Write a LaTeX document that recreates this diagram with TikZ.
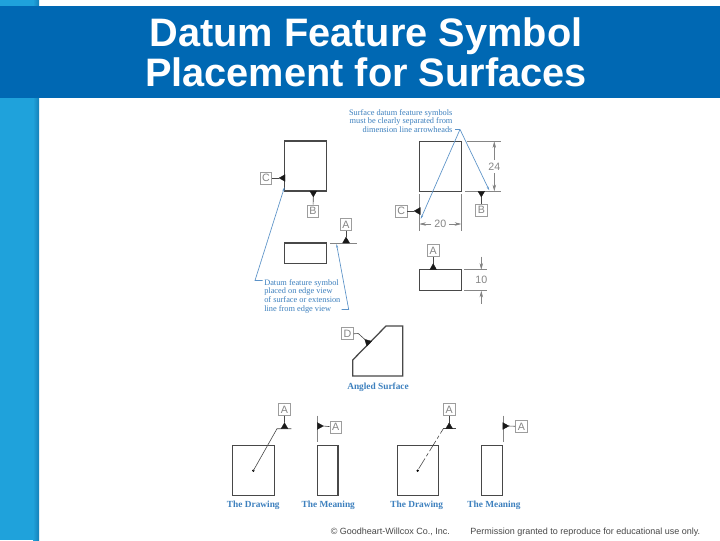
\documentclass[tikz,border=0pt]{standalone}
\usepackage{fontspec}
\setmainfont{Liberation Serif}
\newfontfamily\arialf{Liberation Sans}
\usetikzlibrary{arrows.meta}
\definecolor{hdr}{HTML}{0068B3}
\definecolor{bluetext}{HTML}{3D80BE}
\definecolor{leader}{HTML}{5C93C8}
\definecolor{ink}{HTML}{484848}
\definecolor{grayink}{HTML}{858585}
\definecolor{stripA}{HTML}{1FA2DB}
\definecolor{stripB}{HTML}{1580B8}
\tikzset{
  x=0.75pt,y=-0.75pt,
  part/.style={draw=ink,line width=0.95pt,fill=white},
  thinl/.style={draw=grayink,line width=0.45pt},
  stem/.style={draw=ink,line width=0.45pt},
  tri/.style={fill=black!90,draw=black!90,line width=0.2pt,line join=round},
  dbox/.style={draw=grayink!80,line width=0.6pt,minimum width=8.6pt,minimum height=9pt,inner sep=0pt,font=\arialf\fontsize{8}{8}\selectfont,text=grayink},
  dimtext/.style={inner sep=2pt,font=\arialf\fontsize{8}{8}\selectfont,text=grayink},
  dimarrow/.style={thinl,-{Stealth[length=5pt,width=2.6pt,fill=ink]}},
  lead/.style={draw=leader,line width=0.5pt},
  leadtip/.style={lead,-{Stealth[length=3pt,width=1.4pt,fill=hdr]}},
  note/.style={inner sep=0pt,text=bluetext,font=\fontsize{6.25}{6.6}\selectfont},
  caption/.style={inner sep=0pt,text=bluetext,font=\bfseries\fontsize{7}{7}\selectfont},
  titlet/.style={inner sep=0pt,text=white,align=center,font=\arialf\bfseries\fontsize{29.8}{30}\selectfont},
  foot/.style={inner sep=0pt,text=ink,font=\arialf\fontsize{6.75}{7}\selectfont},
}
\begin{document}
\begin{tikzpicture}
\useasboundingbox (0,0) rectangle (720,540);
\fill[white] (0,0) rectangle (720,540);
% side strip and header
\fill[stripA] (0,0) rectangle (33,540);
\shade[left color=stripA,right color=stripB] (33,0) rectangle (39,540);
\fill[hdr] (0,6) rectangle (720,98);
\node[titlet] (title) at (366,52) {Datum Feature Symbol\\Placement for Surfaces};

% ---- upper left views
\draw[part] (284.7,141) rectangle (326.7,191);
\draw[part] (284.7,243) rectangle (326.7,263.7);
\node[dbox] (C1) at (266,178) {C};
\coordinate (C1t) at (279,178);
\draw[stem] (C1) -- (C1t);
\fill[tri] (C1t) -- (285,174.6) -- (285,181.4) -- cycle;
\node[dbox] (B1) at (313,211) {B};
\coordinate (B1t) at (313.3,197);
\draw[stem] (B1) -- (B1t);
\fill[tri] (B1t) -- (309.8,191) -- (316.8,191) -- cycle;
\coordinate (E1a) at (330,243);
\coordinate (E1b) at (356.7,243);
\draw[thinl] (E1a) -- (E1b);
\node[dbox] (A1) at (346,224.5) {A};
\coordinate (A1t) at (346,237);
\draw[stem] (A1) -- (A1t);
\fill[tri] (A1t) -- (342.6,243) -- (349.6,243) -- cycle;

% left note and leaders
\node[note,anchor=north west,align=left] (leftnote) at (264,279) {Datum feature symbol\\placed on edge view\\of surface or extension\\line from edge view};
\coordinate (LA) at (262.5,280.5);
\coordinate (LB) at (255,280.5);
\coordinate (LC) at (284.5,187);
\draw[leadtip] (LA) -- (LB) -- (LC);
\coordinate (LD) at (341.7,309.5);
\coordinate (LE) at (348.7,309.5);
\coordinate (LF) at (336.5,244);
\draw[leadtip] (LD) -- (LE) -- (LF);

% ---- upper right views
\draw[part] (419.3,141.3) rectangle (461.3,191.3);
\draw[part] (419.3,269.7) rectangle (461.3,290.7);
% extension lines
\coordinate (X1a) at (466.5,141.3); \coordinate (X1b) at (500.7,141.3);
\coordinate (X2a) at (465,191.3);   \coordinate (X2b) at (500.7,191.3);
\draw[thinl] (X1a) -- (X1b);
\draw[thinl] (X2a) -- (X2b);
\coordinate (X3a) at (419.3,194.3); \coordinate (X3b) at (419.3,231);
\coordinate (X4a) at (461.3,194.3); \coordinate (X4b) at (461.3,231);
\draw[thinl] (X3a) -- (X3b);
\draw[thinl] (X4a) -- (X4b);
\coordinate (X5a) at (464.3,269.7); \coordinate (X5b) at (487.3,269.7);
\coordinate (X6a) at (464.3,290.7); \coordinate (X6b) at (487.3,290.7);
\draw[thinl] (X5a) -- (X5b);
\draw[thinl] (X6a) -- (X6b);
% dimensions
\node[dimtext] (d24) at (494.3,166.7) {24};
\draw[dimarrow] (d24) -- (494.3,141.3);
\draw[dimarrow] (d24) -- (494.3,191.3);
\node[dimtext] (d20) at (440.3,224) {20};
\draw[dimarrow] (d20) -- (419.3,224);
\draw[dimarrow] (d20) -- (461.3,224);
\node[dimtext] (d10) at (481.3,280.2) {10};
\coordinate (D10a) at (481.3,256.7);
\coordinate (D10b) at (481.3,303.7);
\draw[dimarrow] (D10a) -- (481.3,269.7);
\draw[dimarrow] (D10b) -- (481.3,290.7);
% symbols
\node[dbox] (B2) at (481.3,210.3) {B};
\coordinate (B2t) at (481.3,197);
\draw[stem] (B2) -- (B2t);
\fill[tri] (B2t) -- (477.9,191.3) -- (484.7,191.3) -- cycle;
\node[dbox] (C2) at (401.3,211) {C};
\coordinate (C2t) at (414,211);
\draw[stem] (C2) -- (C2t);
\fill[tri] (C2t) -- (420.3,207.4) -- (420.3,214.7) -- cycle;
\node[dbox] (A2) at (433.2,250.8) {A};
\coordinate (A2t) at (433.2,263.5);
\draw[stem] (A2) -- (A2t);
\fill[tri] (A2t) -- (429.8,269.7) -- (436.6,269.7) -- cycle;
% right note
\node[note,anchor=north east,align=right] (rightnote) at (452.7,109) {Surface datum feature symbols\\must be clearly separated from\\dimension line arrowheads};
\coordinate (RA) at (455,129.4);
\coordinate (RB) at (460,129.4);
\coordinate (RC) at (420.7,219);
\coordinate (RD) at (489.3,190.5);
\draw[lead] (RA) -- (RB);
\draw[leadtip] (RB) -- (RC);
\draw[leadtip] (RB) -- (RD);

% ---- angled surface
\draw[part] (352.7,360) -- (352.7,376) -- (402.7,376) -- (402.7,326) -- (386,326) -- cycle;
\node[dbox] (D1) at (347.5,333.8) {D};
\coordinate (D1e) at (358.3,333.5);
\coordinate (D1t) at (364.7,339.3);
\draw[stem] (D1.east) -- (D1e) -- (D1t);
\fill[tri] (D1t) -- (371.6,341.2) -- (366.8,346.2) -- cycle;
\node[caption] (cap0) at (378,387.3) {Angled Surface};

% ---- bottom: first drawing/meaning
\draw[part] (232.7,445.7) rectangle (274.3,495.3);
\coordinate (P1) at (253.3,470.7);
\fill[black] (P1) circle (1.3);
\coordinate (E2) at (277,428.7);
\coordinate (E2b) at (291.3,428.7);
\draw[stem] (P1) -- (E2) -- (E2b);
\node[dbox] (A3) at (284.4,409.5) {A};
\coordinate (A3t) at (284.5,422.7);
\draw[stem] (A3) -- (A3t);
\fill[tri] (A3t) -- (281,428.7) -- (288,428.7) -- cycle;
\node[caption] (cap1) at (253.3,505.7) {The Drawing};

\draw[part] (317.3,445.7) rectangle (338,495.3);
\coordinate (V1a) at (317.3,415.7);
\coordinate (V1b) at (317.3,442.3);
\draw[thinl] (V1a) -- (V1b);
\node[dbox] (A4) at (335.8,427.2) {A};
\coordinate (A4t) at (323.5,426);
\draw[stem] (A4) -- (A4t);
\fill[tri] (A4t) -- (317.3,422.6) -- (317.3,429.4) -- cycle;
\node[caption] (cap2) at (328.3,505.7) {The Meaning};

% ---- bottom: second drawing/meaning
\draw[part] (397.3,445.7) rectangle (438.7,495.3);
\coordinate (P2) at (417.7,470.7);
\fill[black] (P2) circle (1.3);
\coordinate (E3) at (443.3,428.7);
\coordinate (E3b) at (456,428.7);
\draw[stem] (E3) -- (E3b);
\draw[stem,dash pattern=on 9pt off 2pt on 2.5pt off 2pt] (P2) ++(1,-2) -- (E3);
\node[dbox] (A5) at (449.2,409.5) {A};
\coordinate (A5t) at (449.2,422.7);
\draw[stem] (A5) -- (A5t);
\fill[tri] (A5t) -- (445.7,428.7) -- (452.7,428.7) -- cycle;
\node[caption] (cap3) at (416.7,505.7) {The Drawing};

\draw[part] (481.7,445.7) rectangle (502.3,495.3);
\coordinate (V2a) at (502.8,415.7);
\coordinate (V2b) at (502.8,442.3);
\draw[thinl] (V2a) -- (V2b);
\node[dbox] (A6) at (521.3,426.5) {A};
\coordinate (A6t) at (509,426);
\draw[stem] (A6) -- (A6t);
\fill[tri] (A6t) -- (502.8,422.6) -- (502.8,429.4) -- cycle;
\node[caption] (cap4) at (494,505.7) {The Meaning};

% ---- footer
\node[foot,anchor=west] (f1) at (330.5,532) {© Goodheart-Willcox Co., Inc.};
\node[foot,anchor=west] (f2) at (470,532) {Permission granted to reproduce for educational use only.};
\end{tikzpicture}
\end{document}
